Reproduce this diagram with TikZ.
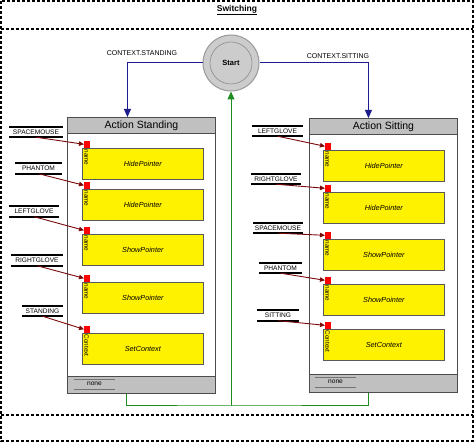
\documentclass[tikz,border=0pt]{standalone}
\usepackage{fontspec}
\setmainfont{Liberation Sans}
\usetikzlibrary{calc,positioning,arrows.meta}

\definecolor{ctxblue}{HTML}{1C1C8C}
\definecolor{backgreen}{HTML}{1E8C1E}
\definecolor{evred}{HTML}{7A0A0A}
\definecolor{hdrgray}{HTML}{C0C0C0}

\tikzset{
  lane/.style={draw=black, line width=1.9pt, dash pattern=on 3pt off 2pt},
  startnode/.style={circle, draw=black!40, fill=black!20, line width=1pt, minimum size=56pt, inner sep=0pt, font=\fontsize{7.5}{8}\selectfont\bfseries},
  acthead/.style={draw=black!70, fill=hdrgray, line width=0.9pt, minimum width=148pt, minimum height=16pt, inner sep=0pt, anchor=north west, font=\fontsize{10.5}{11}\selectfont},
  actfoot/.style={draw=black!70, fill=hdrgray, line width=0.9pt, minimum width=148pt, minimum height=17pt, inner sep=0pt, anchor=north west},
  actbody/.style={draw=black!70, fill=white, line width=0.9pt},
  actbox/.style={draw=black!65, fill=yellow, line width=0.7pt, minimum width=121pt, minimum height=31pt, inner sep=0pt, anchor=north west, font=\fontsize{7.3}{8}\selectfont\itshape},
  tag/.style={fill=red, minimum width=6pt, minimum height=7pt, inner sep=0pt, anchor=south west},
  sidetext/.style={rotate=-90, anchor=south west, inner sep=0pt, font=\fontsize{6.3}{6}\selectfont},
  evlabel/.style={minimum height=10pt, inner sep=0pt, font=\fontsize{6.6}{7}\selectfont},
  evbar/.style={draw=black, line width=1.8pt},
  nonebar/.style={draw=black!55, line width=0.5pt},
  evarrow/.style={draw=evred, line width=0.9pt, -{Triangle[length=5pt,width=4.5pt]}},
  ctxarrow/.style={draw=ctxblue, line width=1pt, -{Triangle[length=8pt,width=7pt]}},
  backline/.style={draw=backgreen, line width=1pt},
  ctxtext/.style={font=\fontsize{7}{8}\selectfont, inner sep=1pt}
}

\begin{document}
\begin{tikzpicture}[x=1pt,y=-1pt]
\useasboundingbox (0,0) rectangle (474,443);

% pool and lanes
\draw[lane] (1,1) rectangle (473,441);
\draw[lane] (1,29) -- (473,29);
\draw[lane] (1,415) -- (473,415);
\node[font=\fontsize{8.5}{9}\selectfont\bfseries] (title) at (237,10) {\underline{Switching}};

% start state
\node[startnode] (start) at (231,63) {Start};
\draw[black!45, line width=0.6pt] (start.center) circle (21pt);

% the two action containers
\node[acthead] (standHead) at (67,117) {Action Standing};
\node[actfoot] (standFoot) at (67,376) {};
\draw[actbody] (standHead.south west) rectangle (standFoot.north east);
\node[acthead] (sitHead) at (309,118) {Action Sitting};
\node[actfoot, minimum height=18pt] (sitFoot) at (309,374) {};
\draw[actbody] (sitHead.south west) rectangle (sitFoot.north east);

\node[evlabel, minimum width=41pt] (standNone) at (94.5,384) {none};
\draw[nonebar] (standNone.north west) -- (standNone.north east) (standNone.south west) -- (standNone.south east);
\node[evlabel, minimum width=41pt] (sitNone) at (335.5,382) {none};
\draw[nonebar] (sitNone.north west) -- (sitNone.north east) (sitNone.south west) -- (sitNone.south east);

% actions, standing
\foreach \i/\ty/\act/\side/\ev/\cx/\cy/\w in {
    1/148/HidePointer/name/SPACEMOUSE/36/132/54,
    2/189/HidePointer/name/PHANTOM/38.5/168.5/47,
    3/234/ShowPointer/name/LEFTGLOVE/34/211.5/50,
    4/282/ShowPointer/name/RIGHTGLOVE/37/260.5/52,
    5/333/SetContext/Context/STANDING/42.5/311/41} {
  \node[actbox] (st\i) at (82,\ty) {\act};
  \node[tag] (st\i tag) at (84,\ty) {};
  \node[sidetext] at ([xshift=2pt,yshift=-1.5pt]st\i.north west) {\side};
  \node[evlabel, minimum width=\w pt] (stev\i) at (\cx,\cy) {\ev};
  \draw[evbar] (stev\i.north west) -- (stev\i.north east) (stev\i.south west) -- (stev\i.south east);
  \draw[evarrow] (stev\i.south) -- (st\i tag.west);
}

% actions, sitting
\foreach \i/\ty/\act/\side/\ev/\cx/\cy/\w in {
    1/150/HidePointer/name/LEFTGLOVE/277.5/131/51,
    2/192/HidePointer/name/RIGHTGLOVE/276/179/50,
    3/239/ShowPointer/name/SPACEMOUSE/278/228/50,
    4/284/ShowPointer/name/PHANTOM/280.5/268/43,
    5/329/SetContext/Context/SITTING/278/315.5/42} {
  \node[actbox] (si\i) at (323,\ty) {\act};
  \node[tag] (si\i tag) at (325,\ty) {};
  \node[sidetext] at ([xshift=2pt,yshift=-1.5pt]si\i.north west) {\side};
  \node[evlabel, minimum width=\w pt] (siev\i) at (\cx,\cy) {\ev};
  \draw[evbar] (siev\i.north west) -- (siev\i.north east) (siev\i.south west) -- (siev\i.south east);
  \draw[evarrow] (siev\i.south) -- (si\i tag.west);
}

% context switches
\draw[ctxarrow] (start.west) -| ([xshift=-14pt]standHead.north);
\draw[ctxarrow] (start.east) -| ([xshift=-15pt]sitHead.north);
\node[ctxtext] (ctxStand) at (142,53) {CONTEXT.STANDING};
\node[ctxtext] (ctxSit) at (338,56) {CONTEXT.SITTING};

% back to start
\coordinate (join) at (231,406);
\draw[backline] ([xshift=-15pt]standFoot.south) |- (join) -| ([xshift=-15pt]sitFoot.south);
\draw[backline, -{Triangle[length=8pt,width=7pt]}] (join) -- (start.south);
\end{tikzpicture}
\end{document}
